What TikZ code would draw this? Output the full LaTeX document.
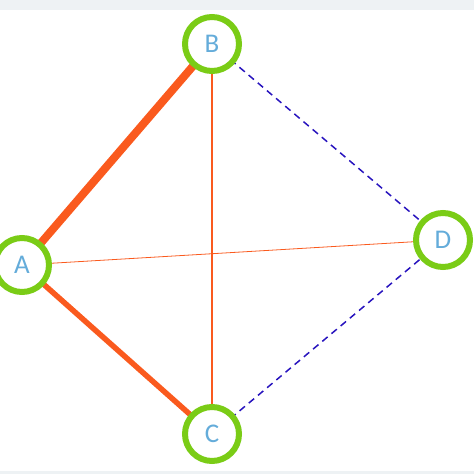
\documentclass[tikz,border=0pt]{standalone}
\usepackage{fontspec}
\setmainfont{Carlito}
\definecolor{ringgreen}{RGB}{122,204,22}
\definecolor{edgeorange}{RGB}{250,90,30}
\definecolor{dashblue}{RGB}{40,20,190}
\definecolor{labelblue}{RGB}{100,172,218}
\definecolor{stripgray}{RGB}{238,242,244}
\tikzset{
  vertex/.style={circle,draw=ringgreen,line width=6pt,fill=white,minimum size=54pt,inner sep=0pt,text=labelblue,font=\fontsize{27}{27}\selectfont},
  heavy/.style={draw=edgeorange,line width=8pt},
  medium/.style={draw=edgeorange,line width=5.5pt},
  light/.style={draw=edgeorange,line width=1.4pt},
  faint/.style={draw=edgeorange,line width=0.8pt},
  link/.style={draw=dashblue,line width=1.5pt,dash pattern=on 7pt off 5pt}
}
\begin{document}
\begin{tikzpicture}[x=1pt,y=-1pt]
\useasboundingbox(0,0)rectangle(474,474);
\fill[stripgray](0,0)rectangle(474,10);\fill[stripgray](0,471)rectangle(474,474);
\coordinate(pA)at(22,265);\coordinate(pB)at(212,44);\coordinate(pC)at(212,434);\coordinate(pD)at(443,240);
\path[heavy](pA)--(pB);\path[medium](pA)--(pC);\path[light](pB)--(pC);\path[faint](pA)--(pD);
\path[link](pB)--(pD);\path[link](pC)--(pD);
\node[vertex](A)at(pA){A};\node[vertex](B)at(pB){B};\node[vertex](C)at(pC){C};\node[vertex](D)at(pD){D};
\end{tikzpicture}
\end{document}
